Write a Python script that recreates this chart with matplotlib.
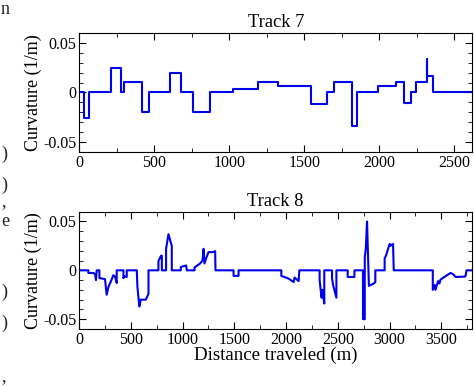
import matplotlib
matplotlib.use("Agg")
import matplotlib.pyplot as plt
from matplotlib.ticker import MultipleLocator, FuncFormatter

plt.rcParams['font.family'] = ['Liberation Serif', 'DejaVu Serif']

# Track 7: piecewise-constant curvature (step start, level)
t7_x = [0, 33, 69, 211, 282, 302, 421, 468, 605, 676, 756, 871, 1026, 1190,
        1323, 1547, 1651, 1696, 1817, 1848, 1990, 2114, 2161, 2214, 2243,
        2316, 2316, 2356, 2620]
t7_k = [0, -0.0255, 0, 0.025, 0, 0.011, -0.02, 0, 0.020, 0, -0.02, 0, 0.004,
        0.011, 0.0068, -0.0112, 0, 0.011, -0.034, 0, 0.0068, 0.011, -0.0105,
        0, 0.011, 0.034, 0.017, 0, 0]

# Track 8: curvature polyline as (distance, curvature) points
t8_pts = [
    (0, 0), (90, 0), (90, -0.0027), (139, -0.0027), (155, -0.004),
    (164, -0.01), (171, 0), (197, 0), (197, -0.008), (200, -0.008),
    (251, -0.009), (267, -0.025), (284, -0.017), (309, -0.011),
    (332, -0.005), (348, -0.0065), (364, -0.013), (364, 0), (429, 0),
    (429, -0.008), (435, -0.006), (461, -0.0068), (461, 0), (558, 0),
    (564, -0.017), (583, -0.037), (596, -0.030), (645, -0.030),
    (671, -0.024), (671, 0), (767, 0), (767, 0.0095), (793, 0.015),
    (800, 0.015), (800, 0), (841, 0), (841, 0.022), (864, 0.037),
    (880, 0.031), (896, 0.025), (896, 0), (983, 0), (983, 0.0034),
    (1035, 0.005), (1041, 0), (1116, 0), (1116, 0.003), (1170, 0.007),
    (1193, 0.01), (1203, 0.022), (1212, 0.007), (1232, 0.0135),
    (1251, 0.0186), (1293, 0.0186), (1315, 0.0196), (1318, 0), (1493, 0),
    (1493, -0.0057), (1541, -0.0057), (1541, 0), (1954, 0),
    (1954, -0.0057), (2024, -0.0085), (2073, -0.012), (2082, -0.0074),
    (2121, -0.011), (2128, 0), (2324, 0), (2324, -0.01), (2334, -0.02),
    (2343, -0.028), (2350, -0.02), (2369, -0.034), (2369, 0), (2444, 0),
    (2444, -0.008), (2454, -0.015), (2486, -0.028), (2486, 0), (2595, 0),
    (2595, -0.0068), (2660, -0.0068), (2660, 0), (2743, 0), (2743, -0.05),
    (2760, -0.05), (2760, 0.0135), (2770, 0.022), (2782, 0.05),
    (2800, -0.016), (2846, -0.0135), (2862, -0.012), (2862, 0), (2952, 0),
    (2952, 0.012), (2968, 0.016), (2991, 0.024), (3001, 0.027),
    (3007, 0.025), (3033, 0.027), (3040, 0), (3417, 0), (3417, -0.02),
    (3436, -0.015), (3443, -0.02), (3468, -0.011), (3481, -0.0135),
    (3491, -0.0095), (3555, -0.005), (3588, -0.0027), (3614, -0.004),
    (3636, -0.0068), (3723, -0.0065), (3733, -0.006), (3744, 0), (3800, 0),
]
t8_x = [p[0] for p in t8_pts]
t8_k = [p[1] for p in t8_pts]

# characters of neighbouring text seen at the left edge (pixel y, char)
edge_chars = [(9, 'n'), (154, ')'), (185, ')'), (202, ','), (222, 'e'),
              (292, ')'), (323, ')'), (377, ',')]

fig = plt.figure(figsize=(4.74, 3.87), dpi=100)
ax1 = fig.add_axes([0.1667, 0.607, 0.830, 0.308])
ax2 = fig.add_axes([0.1667, 0.150, 0.830, 0.303])

ax1.plot(t7_x, t7_k, drawstyle='steps-post', color='#0000ee', lw=1.5)
ax2.plot(t8_x, t8_k, color='#0000ee', lw=1.5)

fmt = FuncFormatter(lambda v, p: '0' if abs(v) < 1e-9 else '%.2f' % v)
for ax, title, xmax in [(ax1, 'Track 7', 2620), (ax2, 'Track 8', 3800)]:
    ax.set_xlim(0, xmax)
    ax.set_ylim(-0.06, 0.06)
    ax.xaxis.set_major_locator(MultipleLocator(500))
    ax.xaxis.set_minor_locator(MultipleLocator(250))
    ax.yaxis.set_major_locator(MultipleLocator(0.05))
    ax.yaxis.set_minor_locator(MultipleLocator(0.01))
    ax.yaxis.set_major_formatter(fmt)
    ax.tick_params(which='both', direction='in', top=True, right=True,
                   labelsize=11.5, pad=2)
    ax.tick_params(which='major', length=5)
    ax.tick_params(which='minor', length=3)
    ax.set_title(title, fontsize=13.3, pad=4)
    ax.set_ylabel('Curvature (1/m)', fontsize=13)
    ax.yaxis.set_label_coords(-0.093, 0.5)

ax2.set_xlabel('Distance traveled (m)', fontsize=13.6, labelpad=-1)

for yp, ch in edge_chars:
    fig.text(1 / 474, 1 - yp / 387, ch, ha='left', va='center',
             fontsize=13, color='#222222')

fig.savefig('out.png', dpi=100)
